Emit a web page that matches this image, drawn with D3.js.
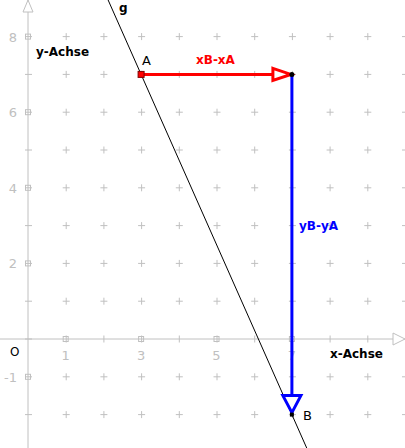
<!DOCTYPE html><html><head><meta charset="utf-8"><script src="https://cdn.jsdelivr.net/npm/d3@7"></script>
<style>body{margin:0;background:#fff}text{font-family:"DejaVu Sans",sans-serif}</style></head><body><svg width="405" height="448"></svg>
<script>
const xTickLabels=[1,3,5,7];
const yTickLabels=[8,6,4,2,-1];
const pointA=[3,7], pointB=[7,-2];
const vecLabels=["xB-xA","yB-yA"];
const axisNames=["x-Achse","y-Achse"];
const svg=d3.select("svg");
const x=d3.scaleLinear().domain([0,10]).range([28,405]);
const y=d3.scaleLinear().domain([0,8]).range([339,36.6]);
const g="#c0c0c0";
// grid crosses
for(let i=1;i<=10;i++)for(let j=-2;j<=8;j++){if(j===0)continue;
 svg.append("path").attr("d",`M${x(i)-3},${y(j)}h7M${x(i)+0.5},${y(j)-3.5}v7`).attr("stroke",g).attr("stroke-width",1);}
for(let i=1;i<=10;i++)svg.append("path").attr("d",`M${x(i)+0.5},${y(0)-3.5}v7`).attr("stroke",g);
for(let j=-2;j<=8;j++)svg.append("path").attr("d",`M${x(0)-3},${y(j)}h7`).attr("stroke",g);
// axes
svg.append("line").attr("x1",0).attr("x2",405).attr("y1",y(0)).attr("y2",y(0)).attr("stroke",g);
svg.append("line").attr("x1",x(0)).attr("x2",x(0)).attr("y1",0).attr("y2",448).attr("stroke",g);
svg.append("path").attr("d",`M${393},${y(0)-6}L405,${y(0)}L393,${y(0)+6}Z`).attr("fill","#fff").attr("stroke",g);
svg.append("path").attr("d",`M${x(0)-5},12L${x(0)},0L${x(0)+5},12Z`).attr("fill","#fff").attr("stroke",g);
xTickLabels.forEach(v=>{svg.append("rect").attr("x",x(v)-2.5).attr("y",y(0)-2.5).attr("width",5).attr("height",5).attr("fill","none").attr("stroke",g);
 svg.append("text").attr("x",x(v)).attr("y",y(0)+21).attr("text-anchor","middle").attr("font-size",13).attr("fill",g).text(v);});
yTickLabels.forEach(v=>{svg.append("rect").attr("x",x(0)-2.5).attr("y",y(v)-2.5).attr("width",5).attr("height",5).attr("fill","none").attr("stroke",g);
 svg.append("text").attr("x",x(0)-11).attr("y",y(v)+5).attr("text-anchor","end").attr("font-size",13).attr("fill",g).text(v);});
svg.append("text").attr("x",10).attr("y",356).attr("font-size",12).text("O");
svg.append("text").attr("x",330).attr("y",358).attr("font-size",12).attr("font-weight","bold").text(axisNames[0]);
svg.append("text").attr("x",36).attr("y",56).attr("font-size",12).attr("font-weight","bold").text(axisNames[1]);
// line g through A and B
const s=(pointB[0]-pointA[0])/(pointB[1]-pointA[1]);
const xa=yy=>pointA[0]+(yy-pointA[1])*s;
svg.append("line").attr("x1",x(xa(y.invert(0)))).attr("y1",0).attr("x2",x(xa(y.invert(448)))).attr("y2",448).attr("stroke","#000");
svg.append("text").attr("x",119).attr("y",12).attr("font-size",12).attr("font-weight","bold").text("g");
// vectors
const ax=x(pointA[0]),ay=y(pointA[1]),cx=x(pointB[0]),by=y(pointB[1]);
svg.append("line").attr("x1",ax).attr("y1",ay).attr("x2",cx-18).attr("y2",ay).attr("stroke","#f00").attr("stroke-width",3);
svg.append("path").attr("d",`M${cx-19},${ay-6}L${cx-1},${ay}L${cx-19},${ay+6}Z`).attr("fill","#fff").attr("stroke","#f00").attr("stroke-width",3);
svg.append("line").attr("x1",cx).attr("y1",ay).attr("x2",cx).attr("y2",by-19).attr("stroke","#00f").attr("stroke-width",3);
svg.append("path").attr("d",`M${cx-9},${by-19}L${cx},${by-2}L${cx+9},${by-19}Z`).attr("fill","#fff").attr("stroke","#00f").attr("stroke-width",3);
svg.append("rect").attr("x",ax-3).attr("y",ay-3).attr("width",6).attr("height",6).attr("fill","#f00").attr("stroke","#800000");
svg.append("circle").attr("cx",cx).attr("cy",ay).attr("r",2.5).attr("fill","#000");
svg.append("rect").attr("x",cx-2).attr("y",by-2).attr("width",4).attr("height",4).attr("fill","#000");
svg.append("text").attr("x",142).attr("y",65).attr("font-size",13).text("A");
svg.append("text").attr("x",303).attr("y",420).attr("font-size",13).text("B");
svg.append("text").attr("x",196).attr("y",64).attr("font-size",12).attr("font-weight","bold").attr("fill","#f00").text(vecLabels[0]);
svg.append("text").attr("x",299).attr("y",230).attr("font-size",12).attr("font-weight","bold").attr("fill","#00f").text(vecLabels[1]);
</script></body></html>
